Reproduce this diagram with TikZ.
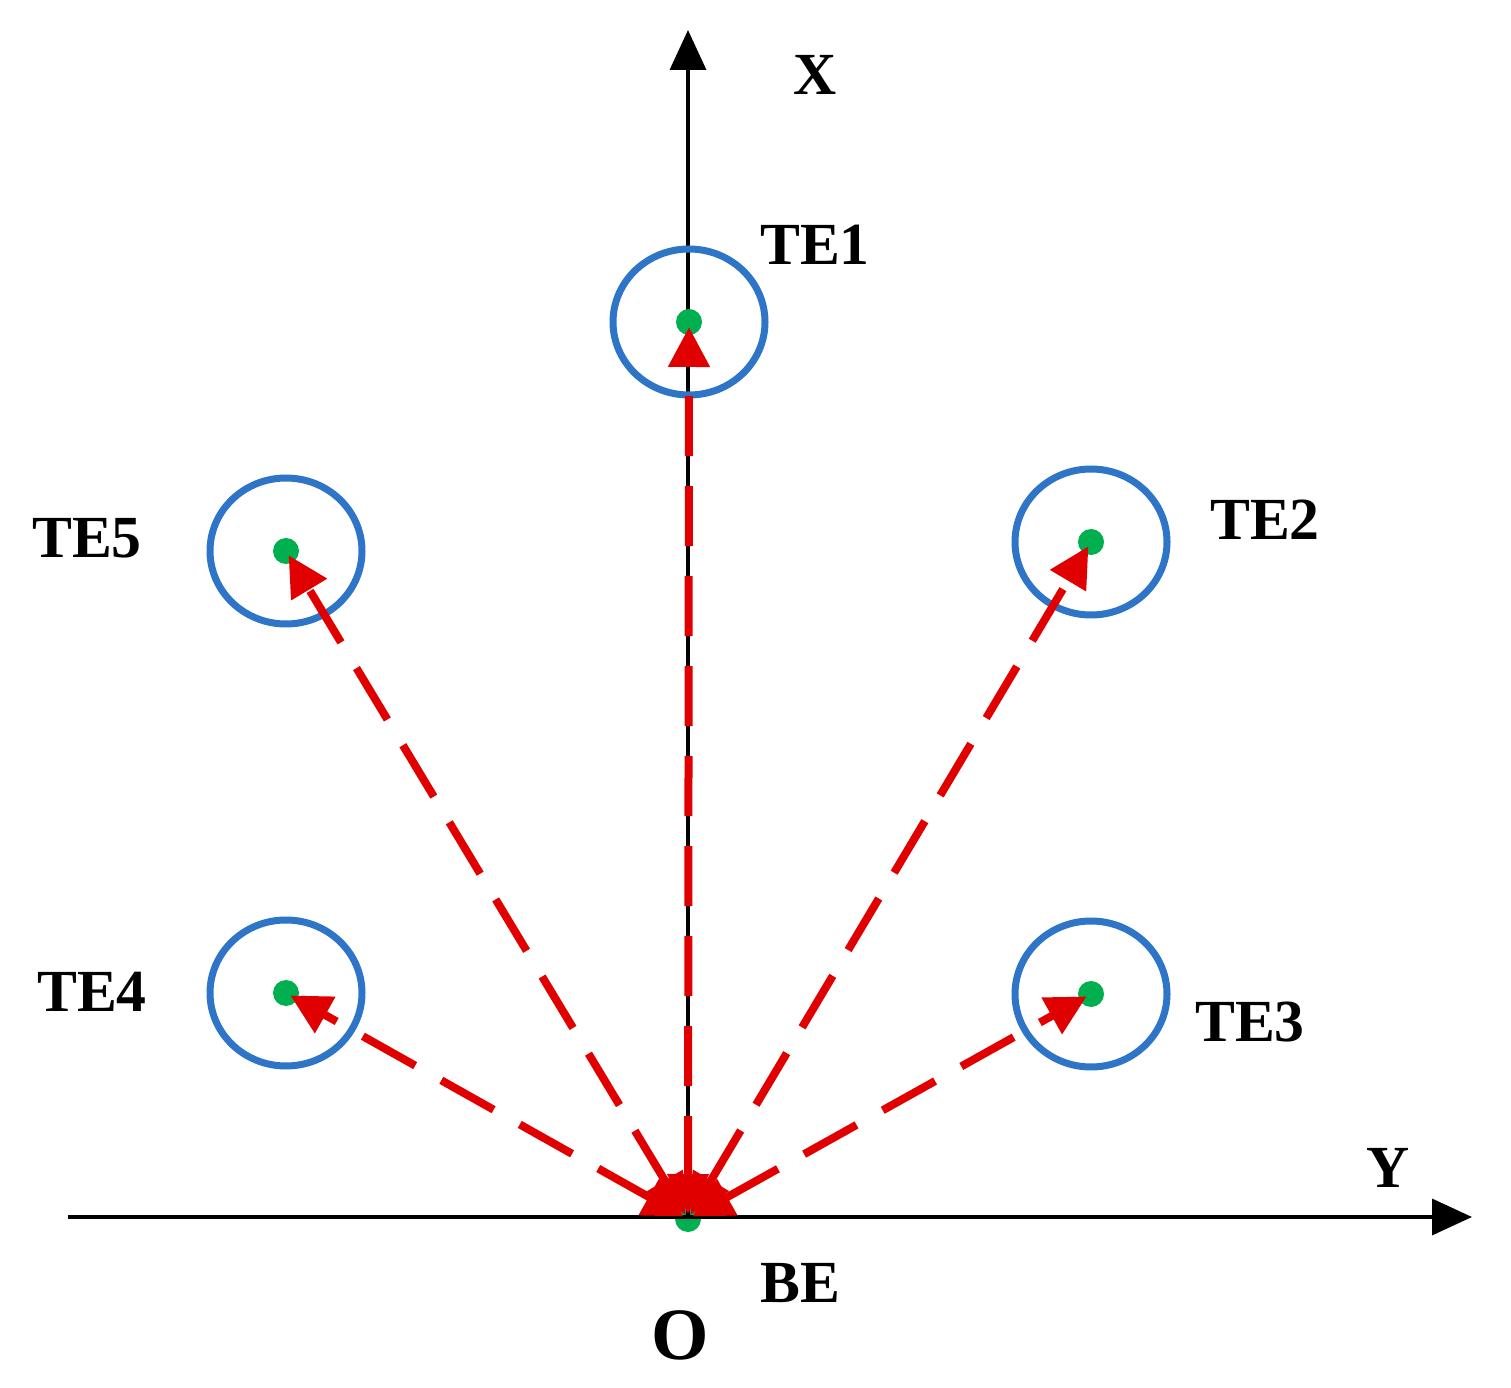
\documentclass[tikz,border=0pt]{standalone}
\usepackage{fontspec}
\setmainfont{Liberation Serif}
\usetikzlibrary{arrows.meta}
\begin{document}
\begin{tikzpicture}[x=0.1mm,y=-0.1mm,
  axis/.style={line width=0.36mm,-{Triangle[length=4mm,width=3.6mm]}},
  ring/.style={draw={rgb,255:red,46;green,117;blue,200},line width=0.7mm},
  dot/.style={circle,fill={rgb,255:red,0;green,176;blue,80},inner sep=0pt,minimum size=2.6mm},
  ray/.style={draw={rgb,255:red,225;green,0;blue,0},line width=0.8mm,dash pattern=on 6mm off 3mm,{Triangle[length=4mm,width=4mm]}-{Triangle[length=4mm,width=4mm]},shorten >=0.5mm,shorten <=0.5mm},
  lab/.style={font=\fontsize{17}{17}\selectfont\bfseries}]
\useasboundingbox (0,0) rectangle (1511,1388);
\node[dot] (o) at (688,1219) {};
\coordinate (yl) at (68,1217);
\coordinate (yr) at (1472,1217);
\coordinate (xt) at (688,30);
\draw[axis] (yl) -- (yr);
\draw[axis] (o.center) -- (xt);
\foreach \n/\x/\y in {t1/689/322,t2/1091/542,t3/1091/994,t4/286/993,t5/286/551}{
  \draw[ring] (\x,\y) ellipse [x radius=76,y radius=73];
  \node[dot] (\n) at (\x,\y) {};
}
\foreach \n in {t1,t2,t3,t4,t5}{\draw[ray] (o.center) -- (\n.center);}
\node[lab] (lx) at (815,75) {X};
\node[lab] (ly) at (1388,1168) {Y};
\node[lab,font=\fontsize{21}{21}\selectfont\bfseries] (lo) at (680,1335) {O};
\node[lab] (lbe) at (800,1283) {BE};
\node[lab] (l1) at (815,245) {TE1};
\node[lab] (l2) at (1265,520) {TE2};
\node[lab] (l3) at (1250,1022) {TE3};
\node[lab] (l4) at (92,992) {TE4};
\node[lab] (l5) at (87,538) {TE5};
\end{tikzpicture}
\end{document}
